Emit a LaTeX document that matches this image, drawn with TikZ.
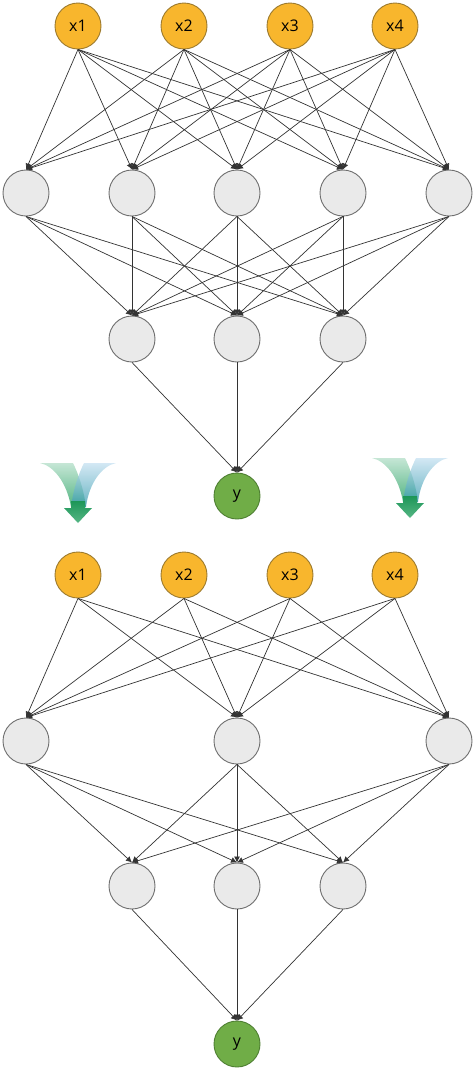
\documentclass[tikz,border=0pt]{standalone}
\usepackage{fontspec}
\setmainfont{Open Sans}
\usetikzlibrary{arrows.meta}
\definecolor{inpfill}{HTML}{F8B62D}
\definecolor{inpdraw}{HTML}{9C7A2E}
\definecolor{hidfill}{HTML}{EAEAEA}
\definecolor{hiddraw}{HTML}{6E6E6E}
\definecolor{outfill}{HTML}{70AD47}
\definecolor{outdraw}{HTML}{4E7F32}
\definecolor{edgecol}{HTML}{333333}
\definecolor{vgreen}{HTML}{1E9E5C}
\definecolor{vblue}{HTML}{3D98CF}
\begin{document}
\begin{tikzpicture}[x=1pt,y=-1pt,
  neuron/.style={circle,minimum size=46pt,inner sep=0pt,line width=0.9pt,font=\fontsize{16}{16}\selectfont},
  inp/.style={neuron,fill=inpfill,draw=inpdraw},
  hid/.style={neuron,fill=hidfill,draw=hiddraw},
  outn/.style={neuron,fill=outfill,draw=outdraw},
  conn/.style={draw=edgecol,line width=0.7pt,-{Latex[length=6pt,width=6pt]}},
  vflow/.pic={
    \shade[top color=vgreen!30,bottom color=vgreen!90,fill opacity=0.85]
      (-38,0) .. controls (-24,3) and (-11,20) .. (-7,44) -- (8,44)
      .. controls (6,28) and (1,12) .. (-5,0) -- cycle;
    \shade[top color=vblue!30,bottom color=vblue!70!vgreen,fill opacity=0.75]
      (38,0) .. controls (24,3) and (11,20) .. (8,44) -- (-7,44)
      .. controls (-5,28) and (0,12) .. (6,0) -- cycle;
    \shade[top color=vgreen!95!black,bottom color=vgreen!75]
      (-7,38) -- (7,38) -- (7,45) -- (14,45) -- (0,60) -- (-14,45) -- (-7,45) -- cycle;
  }]
\useasboundingbox (0,0) rectangle (474,1069);
% ---------- top network ----------
\node[inp] (a1) at (78,26) {x1};
\node[inp] (a2) at (184,26) {x2};
\node[inp] (a3) at (290,26) {x3};
\node[inp] (a4) at (395,26) {x4};
\node[hid] (b1) at (26,193) {};
\node[hid] (b2) at (132,193) {};
\node[hid] (b3) at (237,193) {};
\node[hid] (b4) at (343,193) {};
\node[hid] (b5) at (449,193) {};
\node[hid] (c1) at (132,339) {};
\node[hid] (c2) at (237,339) {};
\node[hid] (c3) at (343,339) {};
\node[outn] (y1) at (237,496) {y};
\foreach \i in {1,...,4}
  \foreach \j in {1,...,5}
    \draw[conn] (a\i.south) -- (b\j.north);
\foreach \i in {1,...,5}
  \foreach \j in {1,...,3}
    \draw[conn] (b\i.south) -- (c\j.north);
\foreach \i in {1,...,3}
  \draw[conn] (c\i.south) -- (y1.north);
% ---------- arrows ----------
\pic at (78,463) {vflow};
\pic at (410,458) {vflow};
% ---------- bottom network ----------
\node[inp] (d1) at (78,575) {x1};
\node[inp] (d2) at (184,575) {x2};
\node[inp] (d3) at (290,575) {x3};
\node[inp] (d4) at (395,575) {x4};
\node[hid] (e1) at (26,741) {};
\node[hid] (e2) at (237,741) {};
\node[hid] (e3) at (449,741) {};
\node[hid] (f1) at (132,886) {};
\node[hid] (f2) at (237,886) {};
\node[hid] (f3) at (343,886) {};
\node[outn] (y2) at (237,1044) {y};
\foreach \i in {1,...,4}
  \foreach \j in {1,...,3}
    \draw[conn] (d\i.south) -- (e\j.north);
\foreach \i in {1,...,3}
  \foreach \j in {1,...,3}
    \draw[conn] (e\i.south) -- (f\j.north);
\foreach \i in {1,...,3}
  \draw[conn] (f\i.south) -- (y2.north);
\end{tikzpicture}
\end{document}
